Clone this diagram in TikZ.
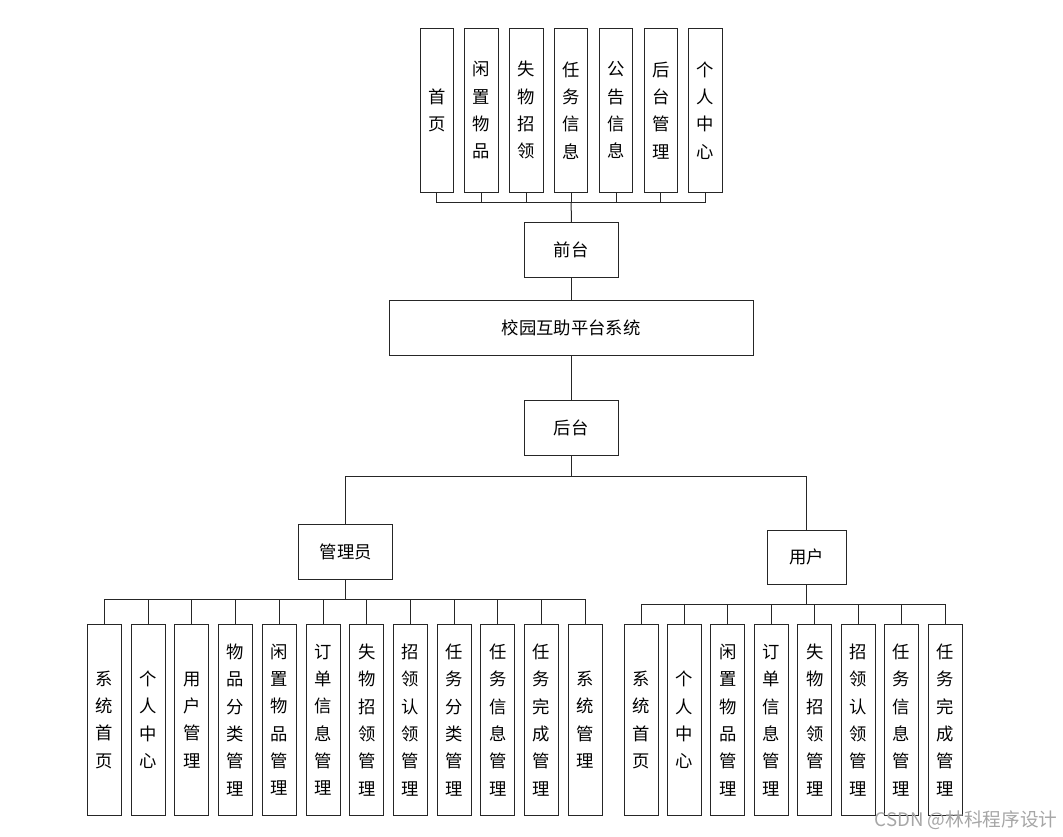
\documentclass[tikz,border=0pt]{standalone}
\usepackage{fontspec}
\newfontfamily\cjk{Noto Sans CJK SC}
\usetikzlibrary{positioning}

\begin{document}
\begin{tikzpicture}[x=0.75pt, y=-0.75pt,
  every node/.style={draw=black!85, line width=0.75pt, inner sep=0pt, align=center,
    font=\cjk\fontsize{13pt}{20.5pt}\selectfont},
  e/.style={draw=black!85, line width=0.75pt},
  wide/.style={minimum width=70.5pt, minimum height=41pt},
  col/.style={minimum width=25.5pt, minimum height=143.25pt},
  topcol/.style={minimum width=25pt, minimum height=123pt}
]
\useasboundingbox (0,0) rectangle (1063,837);

% --- front end modules ---
\node[topcol] (t1) at (436.8,110.3) {首\\页};
\node[topcol] (t2) at (481.6,110.3) {闲\\置\\物\\品};
\node[topcol] (t3) at (526.4,110.3) {失\\物\\招\\领};
\node[topcol] (t4) at (571.2,110.3) {任\\务\\信\\息};
\node[topcol] (t5) at (616.0,110.3) {公\\告\\信\\息};
\node[topcol] (t6) at (660.8,110.3) {后\\台\\管\\理};
\node[topcol] (t7) at (705.6,110.3) {个\\人\\中\\心};

% --- middle spine ---
\node[wide] (front) at (571.3,249.8) {前台};
\node[minimum width=273pt, minimum height=41pt] (sys) at (571.3,327.8) {校园互助平台系统};
\node[wide] (back) at (571.3,428) {后台};

% --- roles ---
\node[wide] (adm) at (345.8,551.7) {管理员};
\node[minimum width=59pt, minimum height=41pt] (usr) at (806.7,557.4) {用户};

% --- admin modules ---
\node[col] (a1)  at (104.5,719.8) {系\\统\\首\\页};
\node[col] (a2)  at (148.2,719.8) {个\\人\\中\\心};
\node[col] (a3)  at (191.9,719.8) {用\\户\\管\\理};
\node[col] (a4)  at (235.6,719.8) {物\\品\\分\\类\\管\\理};
\node[col] (a5)  at (279.3,719.8) {闲\\置\\物\\品\\管\\理};
\node[col] (a6)  at (323.0,719.8) {订\\单\\信\\息\\管\\理};
\node[col] (a7)  at (366.7,719.8) {失\\物\\招\\领\\管\\理};
\node[col] (a8)  at (410.4,719.8) {招\\领\\认\\领\\管\\理};
\node[col] (a9)  at (454.1,719.8) {任\\务\\分\\类\\管\\理};
\node[col] (a10) at (497.8,719.8) {任\\务\\信\\息\\管\\理};
\node[col] (a11) at (541.5,719.8) {任\\务\\完\\成\\管\\理};
\node[col] (a12) at (585.2,719.8) {系\\统\\管\\理};

% --- user modules ---
\node[col] (u1) at (641.0,720.1) {系\\统\\首\\页};
\node[col] (u2) at (684.4,720.1) {个\\人\\中\\心};
\node[col] (u3) at (727.9,720.1) {闲\\置\\物\\品\\管\\理};
\node[col] (u4) at (771.3,720.1) {订\\单\\信\\息\\管\\理};
\node[col] (u5) at (814.7,720.1) {失\\物\\招\\领\\管\\理};
\node[col] (u6) at (858.2,720.1) {招\\领\\认\\领\\管\\理};
\node[col] (u7) at (901.6,720.1) {任\\务\\信\\息\\管\\理};
\node[col] (u8) at (945.0,720.1) {任\\务\\完\\成\\管\\理};

% --- bus points ---
\coordinate (topbus) at (571.2,202.7);
\coordinate (rolebus) at (571.3,476);
\coordinate (admbus) at (345.8,599.3);
\coordinate (usrbus) at (806.7,604.3);

% --- connectors ---
\foreach \i in {1,...,7} \draw[e] (t\i.south) -- (t\i.south |- topbus);
\draw[e] (t1.south |- topbus) -- (t7.south |- topbus);
\draw[e] (topbus) -- (front.north);
\draw[e] (front) -- (sys);
\draw[e] (sys) -- (back);
\draw[e] (back.south) -- (rolebus);
\draw[e] (adm.north) -- (adm.north |- rolebus) -- (usr.north |- rolebus) -- (usr.north);

\draw[e] (adm.south) -- (admbus);
\draw[e] (a1.north |- admbus) -- (a12.north |- admbus);
\foreach \i in {1,...,12} \draw[e] (a\i.north) -- (a\i.north |- admbus);

\draw[e] (usr.south) -- (usrbus);
\draw[e] (u1.north |- usrbus) -- (u8.north |- usrbus);
\foreach \i in {1,...,8} \draw[e] (u\i.north) -- (u\i.north |- usrbus);

% watermark
\node[draw=none, anchor=east, text=black!35, font=\cjk\fontsize{14pt}{16pt}\selectfont] (mark) at (1058,820) {CSDN @林科程序设计};

\end{tikzpicture}
\end{document}
